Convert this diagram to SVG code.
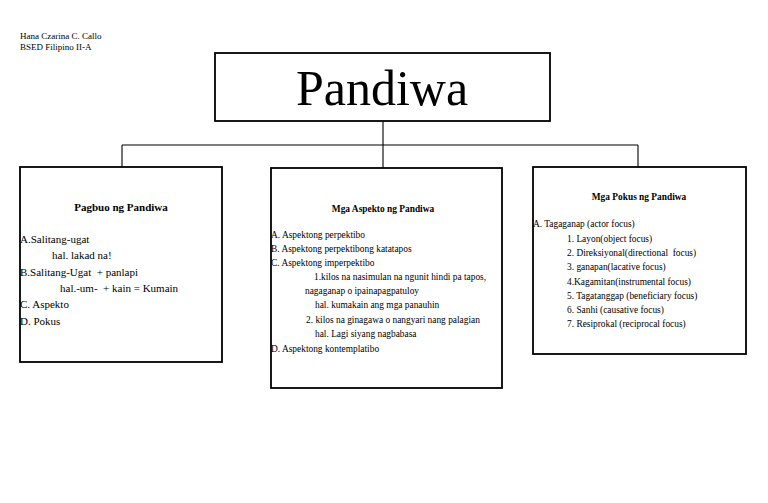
<svg xmlns="http://www.w3.org/2000/svg" width="768" height="503" viewBox="0 0 768 503" xml:space="preserve">
<style>
text{font-family:"Liberation Serif","Times New Roman",serif;fill:#000;white-space:pre}
.box{fill:#fff;stroke:#000;stroke-width:1.8}
.con{fill:none;stroke:#000;stroke-width:1.1}
.h{font-weight:bold;text-anchor:middle}
.s{font-size:9.4px}
.m{font-size:11px}
</style>
<rect width="768" height="503" fill="#fff"/>
<text x="20" y="39" font-size="9">Hana Czarina C. Callo</text>
<text x="20" y="50" font-size="9">BSED Filipino II-A</text>
<g id="connectors">
<path class="con" d="M383 121V145M122 145H638M122 145V167M383 145V168M638 145V167"/>
</g>
<g id="pandiwa">
<rect class="box" x="215" y="53" width="335" height="68"/>
<text x="382" y="105" font-size="50" text-anchor="middle">Pandiwa</text>
</g>
<g id="pagbuo">
<rect class="box" x="20" y="167" width="202" height="195"/>
<text class="h m" x="121" y="211">Pagbuo ng Pandiwa</text>
<g class="m">
<text x="20" y="243">A.Salitang-ugat</text>
<text x="52" y="259">hal. lakad na!</text>
<text x="20" y="276">B.Salitang-Ugat  + panlapi</text>
<text x="60" y="292">hal.-um-  + kain = Kumain</text>
<text x="20" y="308">C. Aspekto</text>
<text x="20" y="325">D. Pokus</text>
</g>
</g>
<g id="aspekto">
<rect class="box" x="271" y="168" width="231" height="220"/>
<text class="h s" x="383" y="212">Mga Aspekto ng Pandiwa</text>
<g class="s">
<text x="271" y="238">A. Aspektong perpektibo</text>
<text x="271" y="252">B. Aspektong perpektibong katatapos</text>
<text x="271" y="266">C. Aspektong imperpektibo</text>
<text x="314" y="280">1.kilos na nasimulan na ngunit hindi pa tapos,</text>
<text x="305" y="294">nagaganap o ipainapagpatuloy</text>
<text x="315" y="308">hal. kumakain ang mga panauhin</text>
<text x="306" y="323">2. kilos na ginagawa o nangyari nang palagian</text>
<text x="315" y="337">hal. Lagi siyang nagbabasa</text>
<text x="271" y="352">D. Aspektong kontemplatibo</text>
</g>
</g>
<g id="pokus">
<rect class="box" x="533" y="167" width="213" height="187"/>
<text class="h s" x="639" y="200">Mga Pokus ng Pandiwa</text>
<g class="s">
<text x="533" y="227">A. Tagaganap (actor focus)</text>
<text x="567" y="242">1. Layon(object focus)</text>
<text x="567" y="256">2. Direksiyonal(directional  focus)</text>
<text x="567" y="270">3. ganapan(lacative focus)</text>
<text x="567" y="285">4.Kagamitan(instrumental focus)</text>
<text x="567" y="299">5. Tagatanggap (beneficiary focus)</text>
<text x="567" y="313">6. Sanhi (causative focus)</text>
<text x="567" y="327">7. Resiprokal (reciprocal focus)</text>
</g>
</g>
</svg>
